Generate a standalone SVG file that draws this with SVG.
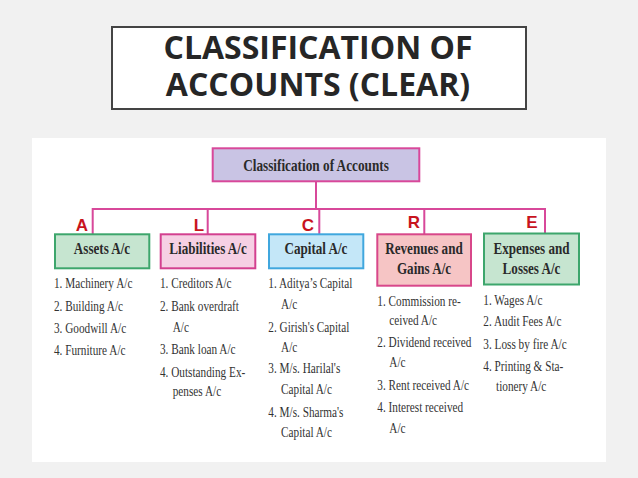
<svg xmlns="http://www.w3.org/2000/svg" width="638" height="478" viewBox="0 0 638 478">
<style>
.title{font-family:"Open Sans","Liberation Sans",sans-serif;font-weight:700;font-size:32px;fill:#262626;text-anchor:middle}
.lbl{font-family:"Liberation Serif","Times New Roman",serif;font-weight:700;font-size:17px;fill:#2a2a2a;text-anchor:middle}
.item{font-family:"Liberation Serif","Times New Roman",serif;font-size:15px;fill:#333}
.ltr{font-family:"Liberation Sans",Arial,sans-serif;font-weight:700;font-size:17px;fill:#c8141e;text-anchor:middle}
.conn{stroke:#d8489a;stroke-width:2;fill:none}
</style>
<rect x="0" y="0" width="638" height="478" fill="#f1f1f1"/>
<g id="title">
<rect x="112" y="27" width="414" height="82" fill="#fff" stroke="#444" stroke-width="2"/>
<text class="title" x="318" y="59">CLASSIFICATION OF</text>
<text class="title" x="318" y="96">ACCOUNTS (CLEAR)</text>
</g>
<rect x="32" y="138" width="574" height="324" fill="#fff"/>
<g id="connectors">
<path class="conn" d="M316 181V209M92.7 234V209H545V234M207.7 209V234M319.3 209V234M424.3 209V234"/>
</g>
<g id="root">
<rect x="212.7" y="148.3" width="206.6" height="33" fill="#c9c4e4" stroke="#d8489a" stroke-width="2"/>
<g transform="translate(316,170.7) scale(0.78,1)"><text class="lbl" x="0" y="0">Classification of Accounts</text></g>
</g>
<g id="assets">
<text class="ltr" x="82" y="231">A</text>
<rect x="55" y="234.3" width="94.3" height="34" fill="#c6e5d0" stroke="#3da66c" stroke-width="2"/>
<g transform="translate(102,253.5) scale(0.77,1)"><text class="lbl" x="0" y="0">Assets A/c</text></g>
<g transform="translate(54,0) scale(0.75,1)">
<text class="item" x="0" y="288.3">1. Machinery A/c</text>
<text class="item" x="0" y="310.7">2. Building A/c</text>
<text class="item" x="0" y="333.3">3. Goodwill A/c</text>
<text class="item" x="0" y="355">4. Furniture A/c</text>
</g>
</g>
<g id="liabilities">
<text class="ltr" x="199" y="231">L</text>
<rect x="160.7" y="234.3" width="94.6" height="34" fill="#f6d0e4" stroke="#d3408f" stroke-width="2"/>
<g transform="translate(208,253.5) scale(0.77,1)"><text class="lbl" x="0" y="0">Liabilities A/c</text></g>
<g transform="translate(160,0) scale(0.75,1)">
<text class="item" x="0" y="288.3">1. Creditors A/c</text>
<text class="item" x="0" y="310.7">2. Bank overdraft</text>
<text class="item" x="17" y="331.7">A/c</text>
<text class="item" x="0" y="354">3. Bank loan A/c</text>
<text class="item" x="0" y="376.7">4. Outstanding Ex-</text>
<text class="item" x="17" y="396">penses A/c</text>
</g>
</g>
<g id="capital">
<text class="ltr" x="308" y="231">C</text>
<rect x="269" y="234.3" width="94.3" height="34" fill="#c4e7f8" stroke="#40a7de" stroke-width="2"/>
<g transform="translate(316,253.5) scale(0.77,1)"><text class="lbl" x="0" y="0">Capital A/c</text></g>
<g transform="translate(268.3,0) scale(0.75,1)">
<text class="item" x="0" y="288.3">1. Aditya’s Capital</text>
<text class="item" x="17" y="309.3">A/c</text>
<text class="item" x="0" y="331.7">2. Girish's Capital</text>
<text class="item" x="17" y="351.7">A/c</text>
<text class="item" x="0" y="373.3">3. M/s. Harilal's</text>
<text class="item" x="17" y="394.3">Capital A/c</text>
<text class="item" x="0" y="416.7">4. M/s. Sharma's</text>
<text class="item" x="17" y="436.7">Capital A/c</text>
</g>
</g>
<g id="revenues">
<text class="ltr" x="414" y="227.5">R</text>
<rect x="377.3" y="234.3" width="93.7" height="51.4" fill="#f6c5c5" stroke="#d8478a" stroke-width="2"/>
<g transform="translate(424,253.5) scale(0.77,1)"><text class="lbl" x="0" y="0">Revenues and</text></g>
<g transform="translate(424,274.2) scale(0.77,1)"><text class="lbl" x="0" y="0">Gains A/c</text></g>
<g transform="translate(377.3,0) scale(0.75,1)">
<text class="item" x="0" y="305.7">1. Commission re-</text>
<text class="item" x="16" y="325">ceived A/c</text>
<text class="item" x="0" y="347.3">2. Dividend received</text>
<text class="item" x="16" y="367.3">A/c</text>
<text class="item" x="0" y="390">3. Rent received A/c</text>
<text class="item" x="0" y="411.7">4. Interest received</text>
<text class="item" x="16" y="432.7">A/c</text>
</g>
</g>
<g id="expenses">
<text class="ltr" x="532" y="227.5">E</text>
<rect x="484" y="233.5" width="95" height="51" fill="#c6e5d0" stroke="#3da66c" stroke-width="2"/>
<g transform="translate(531.5,253.5) scale(0.77,1)"><text class="lbl" x="0" y="0">Expenses and</text></g>
<g transform="translate(531.5,274.2) scale(0.77,1)"><text class="lbl" x="0" y="0">Losses A/c</text></g>
<g transform="translate(483.3,0) scale(0.75,1)">
<text class="item" x="0" y="305">1. Wages A/c</text>
<text class="item" x="0" y="326">2. Audit Fees A/c</text>
<text class="item" x="0" y="349.3">3. Loss by fire A/c</text>
<text class="item" x="0" y="371">4. Printing &amp; Sta-</text>
<text class="item" x="17" y="390.7">tionery A/c</text>
</g>
</g>
</svg>
